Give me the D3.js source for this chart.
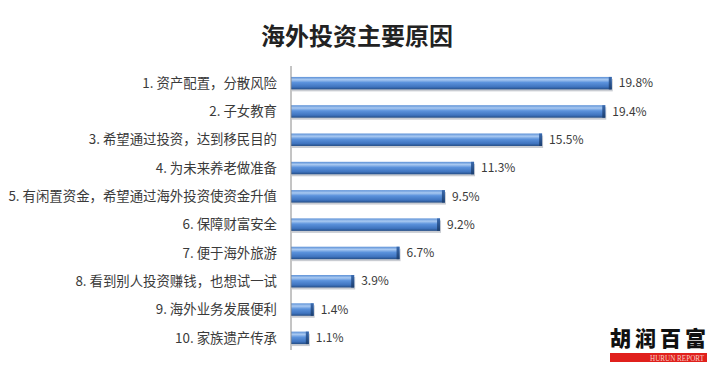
<!DOCTYPE html>
<html>
  <head>
    <meta charset="utf-8">
    <script src="https://d3js.org/d3.v7.min.js"></script>
    <style>
      body { margin: 0; background: #fff; }
      text { font-family: "Noto Sans CJK SC", "Noto Sans", sans-serif; }
    </style>
  </head>
  <body>
    <script>
      // data
      const reasons = [
        "1. 资产配置，分散风险",
        "2. 子女教育",
        "3. 希望通过投资，达到移民目的",
        "4. 为未来养老做准备",
        "5. 有闲置资金，希望通过海外投资使资金升值",
        "6. 保障财富安全",
        "7. 便于海外旅游",
        "8. 看到别人投资赚钱，也想试一试",
        "9. 海外业务发展便利",
        "10. 家族遗产传承"
      ];
      const shares = [19.8, 19.4, 15.5, 11.3, 9.5, 9.2, 6.7, 3.9, 1.4, 1.1];

      const W = 727, H = 368;
      const svg = d3.select("body").append("svg")
        .attr("width", W).attr("height", H);

      const defs = svg.append("defs");
      const grad = defs.append("linearGradient")
        .attr("id", "barGrad").attr("x1", 0).attr("y1", 0).attr("x2", 0).attr("y2", 1);
      grad.append("stop").attr("offset", "0%").attr("stop-color", "#5a8fd6");
      grad.append("stop").attr("offset", "22%").attr("stop-color", "#a9c9f1");
      grad.append("stop").attr("offset", "45%").attr("stop-color", "#5b92dc");
      grad.append("stop").attr("offset", "80%").attr("stop-color", "#3f74bf");
      grad.append("stop").attr("offset", "100%").attr("stop-color", "#244d86");

      const capGrad = defs.append("linearGradient")
        .attr("id", "capGrad").attr("x1", 0).attr("y1", 0).attr("x2", 0).attr("y2", 1);
      capGrad.append("stop").attr("offset", "0%").attr("stop-color", "#3a6aae");
      capGrad.append("stop").attr("offset", "100%").attr("stop-color", "#1c3f70");

      const x = d3.scaleLinear().domain([0, 20]).range([291, 615]);
      const y = d3.scaleBand().domain(reasons).range([69, 352])
        .paddingInner(0.56).paddingOuter(0.28);

      // title
      svg.append("text")
        .attr("x", 357).attr("y", 45)
        .attr("text-anchor", "middle")
        .style("font-size", "24px").style("font-weight", "bold")
        .style("fill", "#222")
        .text("海外投资主要原因");

      const rows = svg.append("g").selectAll("g")
        .data(reasons.map((r, i) => ({ r, v: shares[i] })))
        .join("g");

      // shadow
      rows.append("rect")
        .attr("x", x(0) + 1)
        .attr("y", d => y(d.r) + 2)
        .attr("width", d => x(d.v) - x(0))
        .attr("height", y.bandwidth())
        .attr("fill", "#c9ccd2");

      rows.append("rect")
        .attr("x", x(0))
        .attr("y", d => y(d.r))
        .attr("width", d => x(d.v) - x(0))
        .attr("height", y.bandwidth())
        .attr("fill", "url(#barGrad)");

      // darker end cap
      rows.append("rect")
        .attr("x", d => x(d.v) - 3)
        .attr("y", d => y(d.r))
        .attr("width", 3)
        .attr("height", y.bandwidth())
        .attr("fill", "url(#capGrad)");

      // category labels
      rows.append("text")
        .attr("x", 277)
        .attr("y", d => y(d.r) + y.bandwidth() / 2)
        .attr("dy", "0.35em")
        .attr("text-anchor", "end")
        .style("font-size", "13.4px")
        .style("fill", "#3a3a3a")
        .text(d => d.r);

      // value labels
      rows.append("text")
        .attr("x", d => x(d.v) + 7)
        .attr("y", d => y(d.r) + y.bandwidth() / 2)
        .attr("dy", "0.35em")
        .style("font-size", "12px")
        .style("fill", "#3a3a3a")
        .text(d => d.v.toFixed(1) + "%");

      // axis line
      svg.append("line")
        .attr("x1", x(0)).attr("x2", x(0))
        .attr("y1", 66).attr("y2", 350)
        .attr("stroke", "#8a8a8a").attr("stroke-width", 1);

      // logo
      const logo = svg.append("g");
      logo.append("text")
        .attr("x", 658).attr("y", 346)
        .attr("text-anchor", "middle")
        .style("font-size", "21px").style("font-weight", "900")
        .style("fill", "#111")
        .attr("textLength", 96)
        .text("胡润百富");
      logo.append("rect")
        .attr("x", 610).attr("y", 353).attr("width", 97).attr("height", 9)
        .attr("fill", "#e0201c");
      logo.append("text")
        .attr("x", 650).attr("y", 360.5)
        .attr("textLength", 54)
        .attr("lengthAdjust", "spacingAndGlyphs")
        .style("font-family", "Liberation Serif, serif")
        .style("font-size", "8px")
        .style("fill", "#f7d0c8")
        .text("HURUN REPORT");
    </script>
  </body>
</html>
